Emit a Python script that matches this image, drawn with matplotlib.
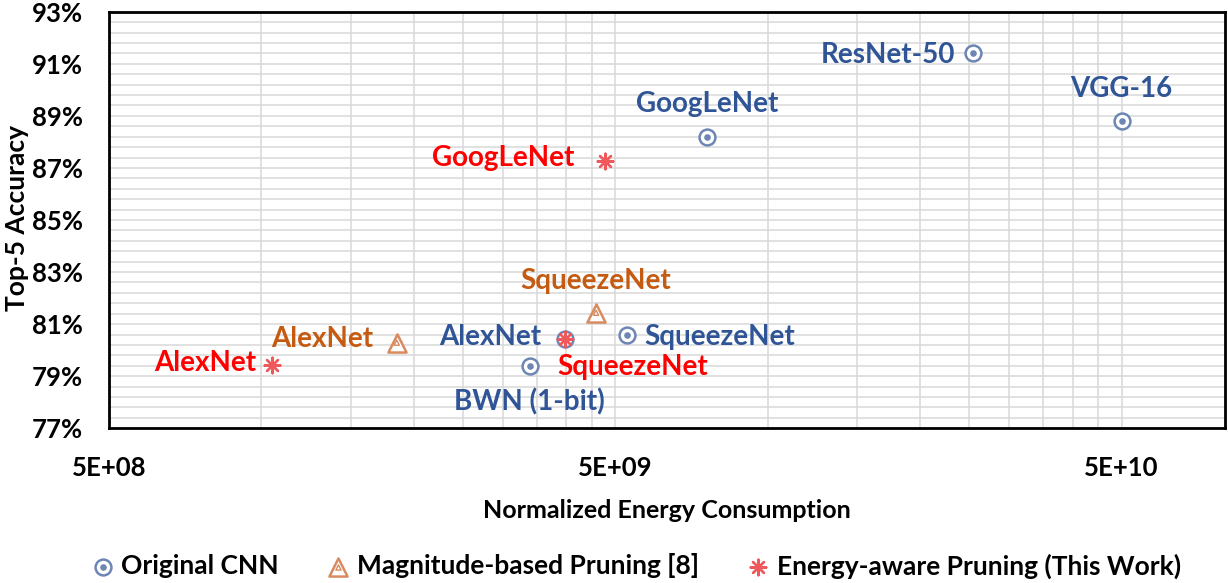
import matplotlib
matplotlib.use('Agg')
import matplotlib.pyplot as plt
from matplotlib.ticker import FixedLocator, NullFormatter, FuncFormatter

plt.rcParams['font.family'] = ['Lato', 'DejaVu Sans']
plt.rcParams['font.weight'] = 'bold'

# ── Data ──────────────────────────────────────────────────────────────
orig_names  = ['AlexNet', 'SqueezeNet', 'GoogLeNet', 'VGG-16', 'ResNet-50', 'BWN (1-bit)']
orig_energy = [3.97e9, 5.27e9, 7.6e9, 5.0e10, 2.54e10, 3.39e9]
orig_acc    = [80.43, 80.58, 88.2, 88.81, 91.43, 79.4]

mag_names  = ['AlexNet', 'SqueezeNet']
mag_energy = [1.85e9, 4.58e9]
mag_acc    = [80.29, 81.44]

ea_names  = ['AlexNet', 'SqueezeNet', 'GoogLeNet']
ea_energy = [1.05e9, 3.97e9, 4.76e9]
ea_acc    = [79.43, 80.43, 87.28]

y_ticks  = [77, 79, 81, 83, 85, 87, 89, 91, 93]
x_ticks  = [5e8, 5e9, 5e10]
x_labels = ['5E+08', '5E+09', '5E+10']

# ── Style ─────────────────────────────────────────────────────────────
BLUE_TXT, BLUE_MK = '#2F5597', '#6D86B4'
ORG_TXT,  ORG_MK  = '#C55A11', '#D98B5F'
RED_TXT,  RED_MK  = '#FF0000', '#F0595B'

# label placement: (dx, dy in pixels, ha, va)
orig_lab = {
    'AlexNet':     (-23, 2, 'right', 'center'),
    'SqueezeNet':  (17, -2, 'left', 'center'),
    'GoogLeNet':   (0, 33, 'center', 'center'),
    'VGG-16':      (0, 32, 'center', 'center'),
    'ResNet-50':   (-17, -2, 'right', 'center'),
    'BWN (1-bit)': (0, -36, 'center', 'center'),
}
mag_lab = {
    'AlexNet':    (-23, 4, 'right', 'center'),
    'SqueezeNet': (0, 32, 'center', 'center'),
}
ea_lab = {
    'AlexNet':    (-16, 2, 'right', 'center'),
    'SqueezeNet': (-7, -28, 'left', 'center'),
    'GoogLeNet':  (-30, 3, 'right', 'center'),
}

fig = plt.figure(figsize=(12.28, 5.83), dpi=100)
ax = fig.add_axes([109 / 1228, 1 - 428.3 / 583, (1225 - 109) / 1228, (428.3 - 11.7) / 583])

ax.set_xscale('log')
ax.set_xlim(5e8, 8e10)
ax.set_ylim(77, 93)

# grid: minor lines at k * 5E+08 / k * 5E+09 ...
minor_x = [k * 5 * 10 ** e for e in (8, 9, 10) for k in range(1, 10)]
ax.xaxis.set_major_locator(FixedLocator(x_ticks))
ax.xaxis.set_minor_locator(FixedLocator(minor_x))
ax.set_xticklabels(x_labels)
ax.xaxis.set_minor_formatter(NullFormatter())
ax.yaxis.set_major_locator(FixedLocator(y_ticks))
ax.yaxis.set_minor_locator(FixedLocator([77 + 0.4 * i for i in range(41)]))
ax.yaxis.set_major_formatter(FuncFormatter(lambda v, p: f'{v:.0f}%'))
ax.grid(True, which='both', color='#D9D9D9', linewidth=1.1)
ax.set_axisbelow(True)
ax.tick_params(which='both', length=0, labelsize=18.5)
ax.tick_params(axis='x', pad=20)
ax.tick_params(axis='y', pad=19)
for s in ax.spines.values():
    s.set_linewidth(2)
    s.set_color('black')

# markers
o1 = ax.scatter(orig_energy, orig_acc, s=130, facecolors='white', edgecolors=BLUE_MK, linewidths=1.8, zorder=3)
o2 = ax.scatter(orig_energy, orig_acc, s=14, color=BLUE_MK, zorder=4)
m1 = ax.scatter(mag_energy, mag_acc, marker='^', s=170, facecolors='white', edgecolors=ORG_MK, linewidths=1.8, zorder=3)
m2 = ax.scatter(mag_energy, mag_acc, marker='^', s=14, facecolors='none', edgecolors=ORG_MK, linewidths=1, zorder=4)
e1 = ax.scatter(ea_energy, ea_acc, marker=(8, 2, 0), s=125, color=RED_MK, linewidths=1.7, zorder=5)

def put_labels(names, xs, ys, lab, color):
    for n, x, y in zip(names, xs, ys):
        dx, dy, ha, va = lab[n]
        ax.annotate(n, (x, y), xytext=(dx, dy), textcoords='offset pixels',
                    ha=ha, va=va, color=color, fontsize=20, fontweight='bold', zorder=6)

put_labels(orig_names, orig_energy, orig_acc, orig_lab, BLUE_TXT)
put_labels(mag_names, mag_energy, mag_acc, mag_lab, ORG_TXT)
put_labels(ea_names, ea_energy, ea_acc, ea_lab, RED_TXT)

fig.text(667 / 1228, 1 - 511 / 583, 'Normalized Energy Consumption', ha='center', va='center',
         fontsize=18, fontweight='bold')
fig.text(17 / 1228, 1 - 218 / 583, 'Top-5 Accuracy', rotation=90, ha='center', va='center',
         fontsize=19, fontweight='bold')

fig.legend([(o1, o2), (m1, m2), e1],
           ['Original CNN', 'Magnitude-based Pruning [8]', 'Energy-aware Pruning (This Work)'],
           loc='center', bbox_to_anchor=(634 / 1228, 1 - 566 / 583), ncol=3, frameon=False,
           handletextpad=0.1, columnspacing=1.65, handlelength=1.2, borderpad=0.1,
           prop={'weight': 'bold', 'size': 19})

fig.savefig('out.png', dpi=100)
